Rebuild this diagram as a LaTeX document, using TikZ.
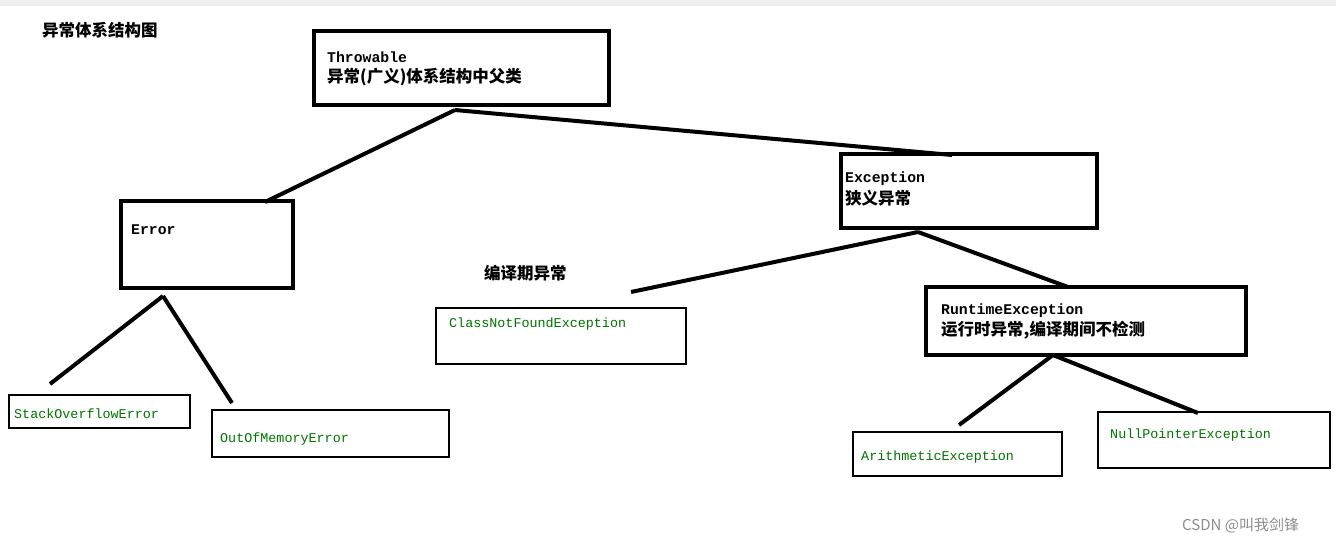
\documentclass[tikz,border=0pt]{standalone}
\usepackage{fontspec}
\setmonofont{Liberation Mono}
\newfontfamily\cjk{Noto Sans CJK SC}
\usetikzlibrary{positioning}
\begin{document}
\begin{tikzpicture}[
  x=1pt, y=-1pt,
  box/.style={draw, line width=3.5pt},
  thinbox/.style={draw, line width=2.6pt},
  lbl/.style={anchor=west, inner sep=0pt, font=\fontsize{14.8}{16}\selectfont\ttfamily},
  cn/.style={anchor=west, inner sep=0pt, font=\fontsize{16.5}{18}\selectfont\cjk\bfseries},
  cls/.style={anchor=west, inner sep=0pt, font=\fontsize{13.4}{15}\selectfont\ttfamily, text=green!45!black},
  edge/.style={line width=4pt}
]
\useasboundingbox (0,0) rectangle (1336,544);
\fill[black!6] (0,0) rectangle (1336,6);

% title
\node[cn] (Title) at (42,30) {异常体系结构图};

% boxes
\draw[box] (314,31) rectangle (609,105);
\node[lbl] (Thr) at (327,57) {\bfseries Throwable};
\node[cn] (ThrCn) at (327,77) {异常(广义)体系结构中父类};

\draw[box] (121,201) rectangle (293,288);
\node[lbl] (Err) at (131,230) {\bfseries Error};

\draw[box] (841,154) rectangle (1097,228);
\node[lbl] (Exc) at (845,179) {\bfseries Exception};
\node[cn] (ExcCn) at (845,198) {狭义异常};

\node[cn] (Comp) at (484,273) {编译期异常};
\draw[thinbox] (436,308) rectangle (686,364);
\node[cls] (CNF) at (449,324) {ClassNotFoundException};

\draw[box] (926,287) rectangle (1246,355);
\node[lbl] (Rt) at (941,311) {\bfseries RuntimeException};
\node[cn] (RtCn) at (941,330) {运行时异常,编译期间不检测};

\draw[thinbox] (9,395) rectangle (190,428);
\node[cls] (SO) at (14,414) {StackOverflowError};
\draw[thinbox] (212,410) rectangle (449,457);
\node[cls] (OOM) at (220,439) {OutOfMemoryError};
\draw[thinbox] (853,432) rectangle (1062,476);
\node[cls] (Ari) at (861,457) {ArithmeticException};
\draw[thinbox] (1098,412) rectangle (1330,468);
\node[cls] (NPE) at (1110,435) {NullPointerException};

% connector ends
\coordinate (ThrB) at (455,110);
\coordinate (ErrT) at (265,202);
\coordinate (ExcT) at (952,155);
\coordinate (ExcB) at (918,232);
\coordinate (CNFT) at (631,292);
\coordinate (RtT) at (1068,287);
\coordinate (ErrB) at (163,296);
\coordinate (SOT) at (50,384);
\coordinate (OOMT) at (232,403);
\coordinate (RtB) at (1053,355);
\coordinate (AriT) at (959,425);
\coordinate (NPET) at (1198,413);

\draw[edge] (ThrB) -- (ErrT);
\draw[edge] (ThrB) -- (ExcT);
\draw[edge] (ExcB) -- (CNFT);
\draw[edge] (ExcB) -- (RtT);
\draw[edge] (ErrB) -- (SOT);
\draw[edge] (ErrB) -- (OOMT);
\draw[edge] (RtB) -- (AriT);
\draw[edge] (RtB) -- (NPET);

% watermark
\node[anchor=west, inner sep=0pt, text=black!45, font=\fontsize{15}{17}\selectfont\cjk] (Mark) at (1182,525) {CSDN @叫我剑锋};
\end{tikzpicture}
\end{document}
